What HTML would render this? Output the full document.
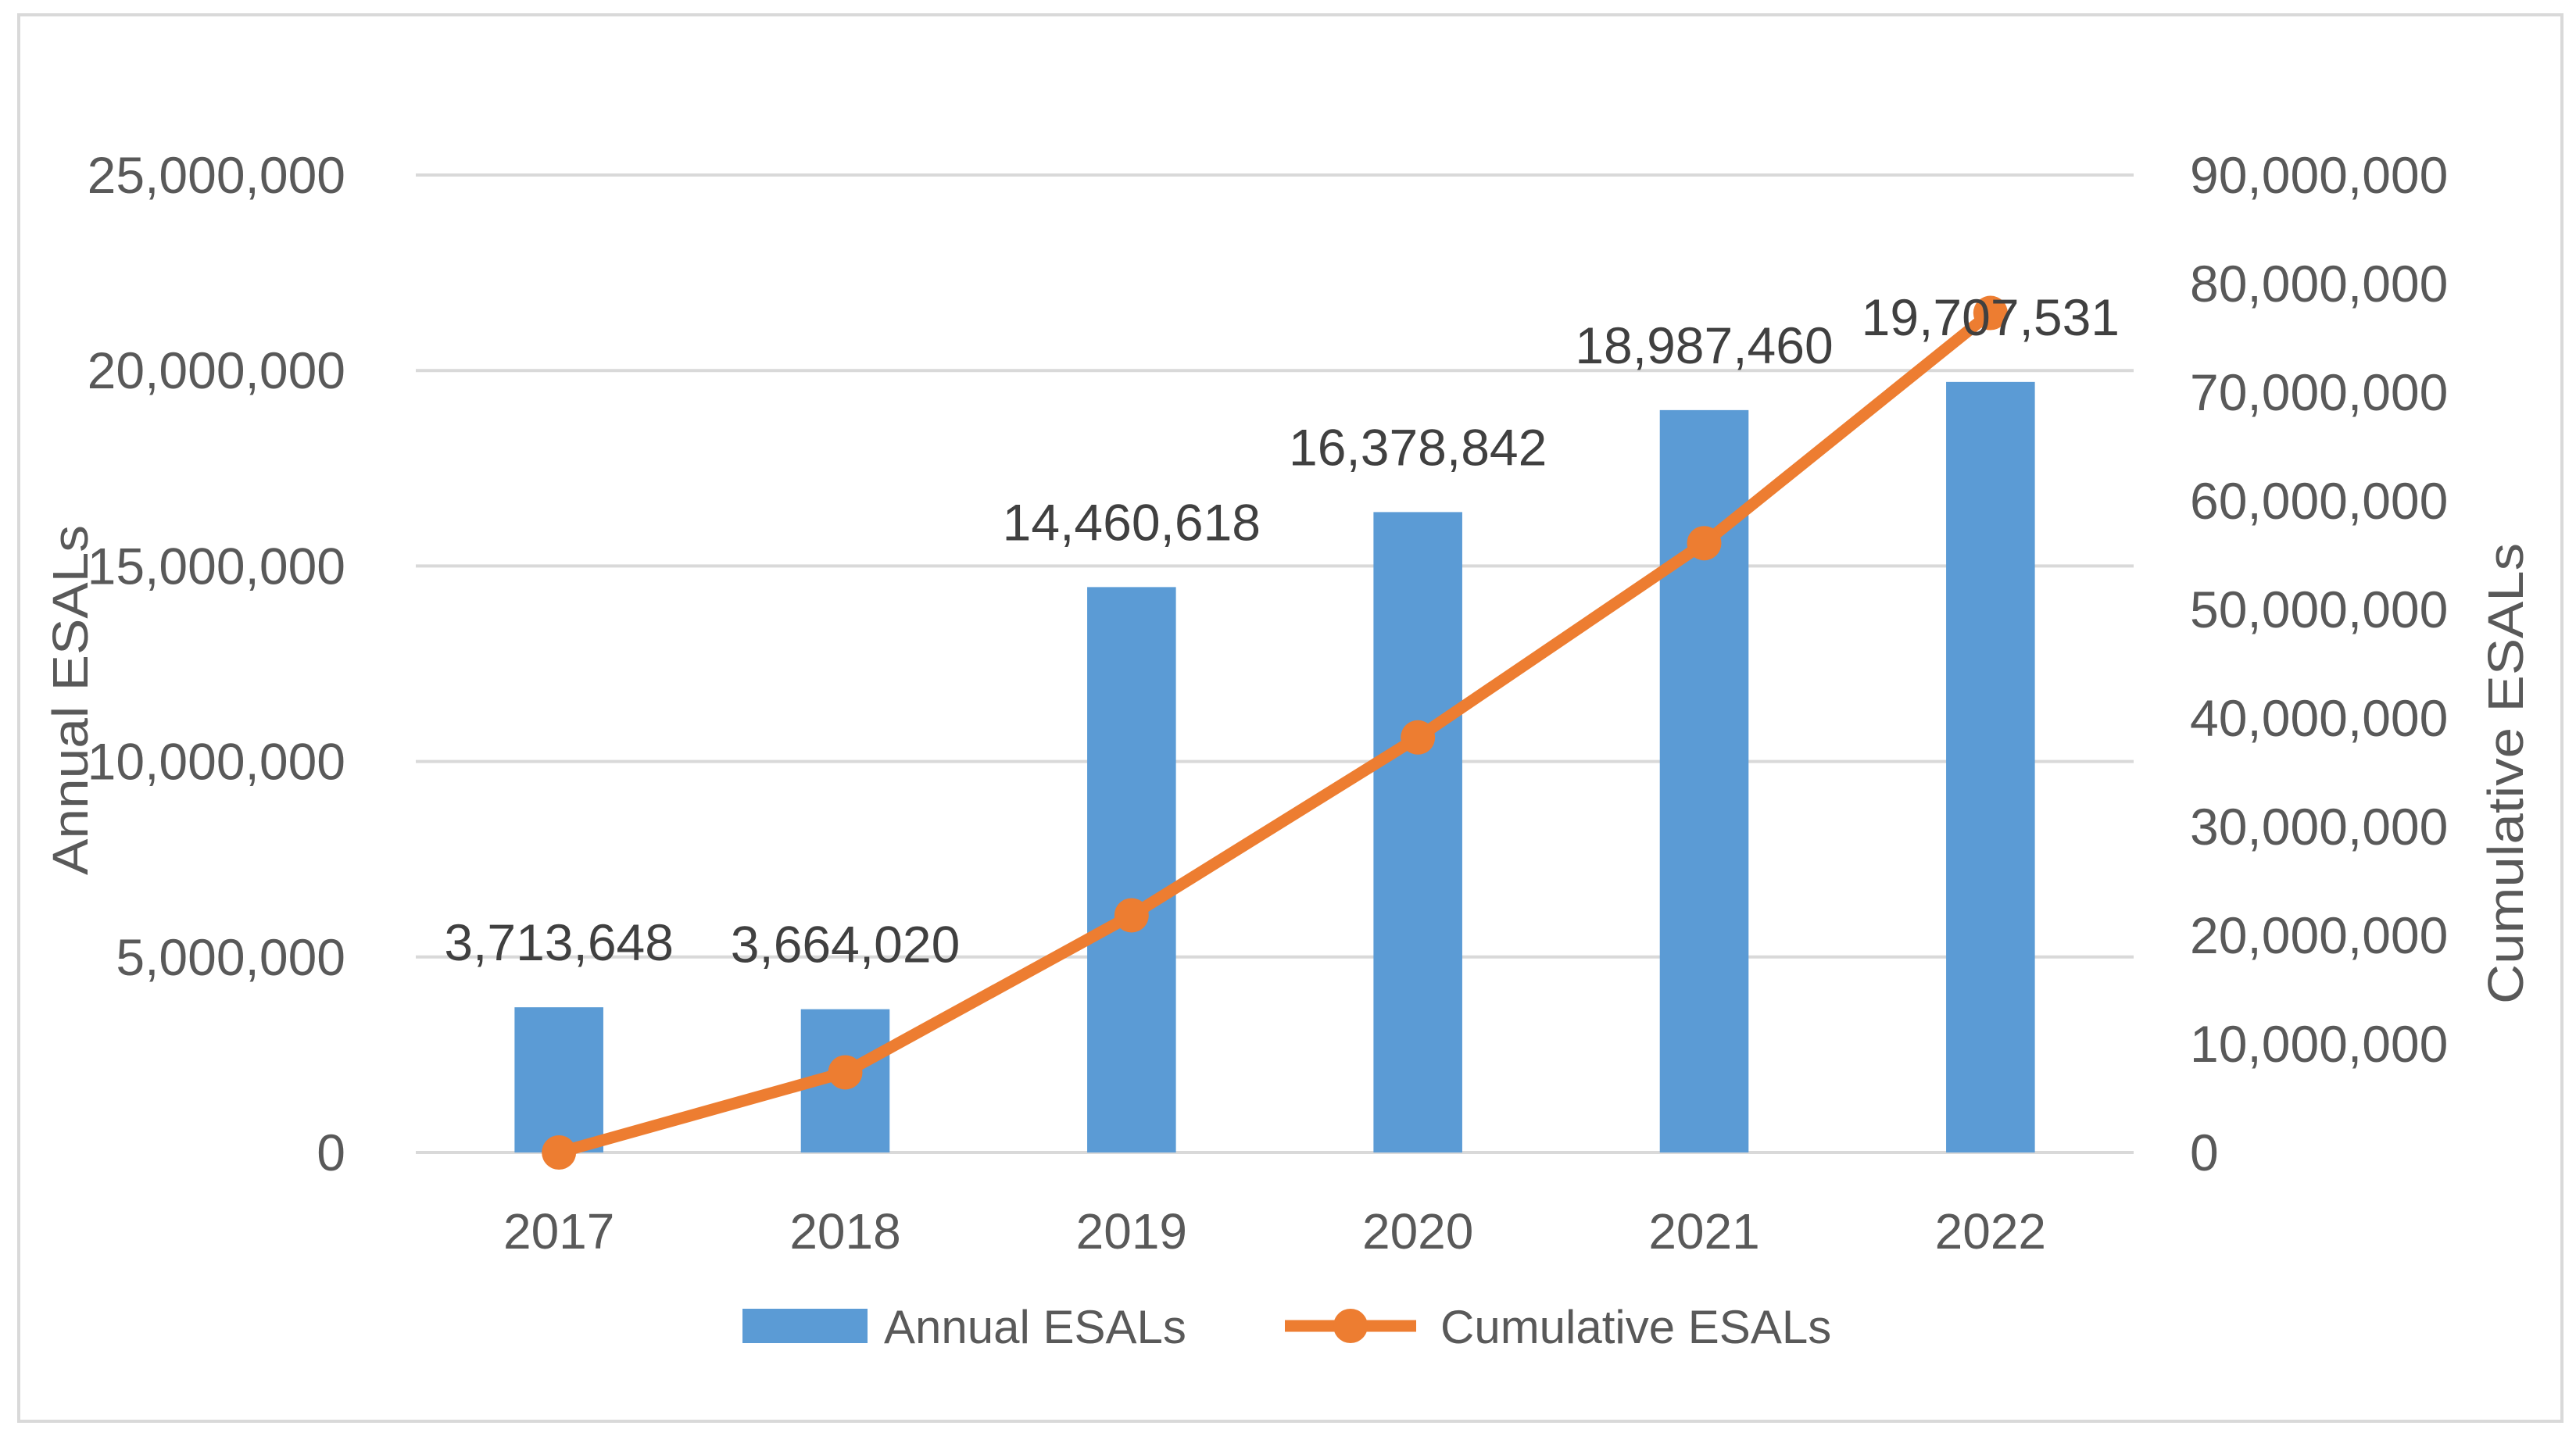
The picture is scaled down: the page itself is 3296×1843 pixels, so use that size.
<!DOCTYPE html>
<html><head><meta charset="utf-8"><style>
html,body{margin:0;padding:0;background:#fff;}
svg{display:block;font-family:"Liberation Sans",sans-serif;}
</style></head><body>
<svg id="chart" width="3296" height="1843" viewBox="0 0 3296 1843">
<rect x="24" y="19" width="3254" height="1800" fill="#fff" stroke="#d9d9d9" stroke-width="4"/>
<g id="grid"></g><g id="bars"></g><g id="line"></g><g id="labels"></g>
<text transform="translate(112,896) rotate(-90)" text-anchor="middle" font-size="64" fill="#595959" textLength="448" lengthAdjust="spacingAndGlyphs">Annual ESALs</text>
<text transform="translate(3228,990) rotate(-90)" text-anchor="middle" font-size="64" fill="#595959" textLength="590" lengthAdjust="spacingAndGlyphs">Cumulative ESALs</text>
<g>
<rect x="950" y="1675" width="160" height="44" fill="#5B9BD5"/>
<text x="1131" y="1719" font-size="60" fill="#595959">Annual ESALs</text>
<line x1="1644" y1="1697" x2="1812" y2="1697" stroke="#ED7D31" stroke-width="15"/>
<circle cx="1728" cy="1697" r="22" fill="#ED7D31"/>
<text x="1843" y="1719" font-size="60" fill="#595959">Cumulative ESALs</text>
</g>
</svg>
<script>
const categories = ["2017","2018","2019","2020","2021","2022"];
const annual = [3713648, 3664020, 14460618, 16378842, 18987460, 19707531];
const cumulative = [0, 7377668, 21838286, 38217128, 56100000, 77300000];
const leftTicks = [0, 5000000, 10000000, 15000000, 20000000, 25000000];
const rightTicks = [0,10000000,20000000,30000000,40000000,50000000,60000000,70000000,80000000,90000000];

const NS="http://www.w3.org/2000/svg";
const X0=532,X1=2730,Y0=1475,Y1=224;
const band=(X1-X0)/categories.length;
const xC=i=>X0+band*(i+0.5);
const yL=v=>Y0-(v/25000000)*(Y0-Y1);
const yR=v=>Y0-(v/90000000)*(Y0-Y1);
const fmt=v=>v.toLocaleString("en-US");
function mk(tag,attrs,parent,text){const e=document.createElementNS(NS,tag);for(const k in attrs)e.setAttribute(k,attrs[k]);if(text!==undefined)e.textContent=text;document.getElementById(parent).appendChild(e);return e;}

leftTicks.forEach(t=>{
  const g=mk("line",{x1:X0,x2:X1,y1:yL(t),y2:yL(t),stroke:"#d9d9d9","stroke-width":4},"grid");
  
  
  const l=mk("text",{x:442,y:yL(t)+23,"text-anchor":"end","font-size":66,fill:"#595959"},"labels",fmt(t));
  
  
});
rightTicks.forEach(t=>{
  const l=mk("text",{x:2802,y:yR(t)+23,"font-size":66,fill:"#595959"},"labels",fmt(t));
  
  
});
const bw=band*0.31;
categories.forEach((c,i)=>{
  const b=mk("rect",{x:xC(i)-bw/2,y:yL(annual[i]),width:bw,height:Y0-yL(annual[i]),fill:"#5B9BD5"},"bars");
  
  
  const v=mk("text",{x:xC(i),y:yL(annual[i])-60,"text-anchor":"middle","font-size":66,fill:"#404040"},"labels",fmt(annual[i]));
  
  
  const xl=mk("text",{x:xC(i),y:1598,"text-anchor":"middle","font-size":64,fill:"#595959"},"labels",c);
  
  
});
const pts=cumulative.map((v,i)=>xC(i)+","+yR(v)).join(" ");
const pl=mk("polyline",{points:pts,fill:"none",stroke:"#ED7D31","stroke-width":15,"stroke-linejoin":"round"},"line");


cumulative.forEach((v,i)=>{
  const c=mk("circle",{cx:xC(i),cy:yR(v),r:22,fill:"#ED7D31"},"line");
  
  
});
</script>
</body></html>
